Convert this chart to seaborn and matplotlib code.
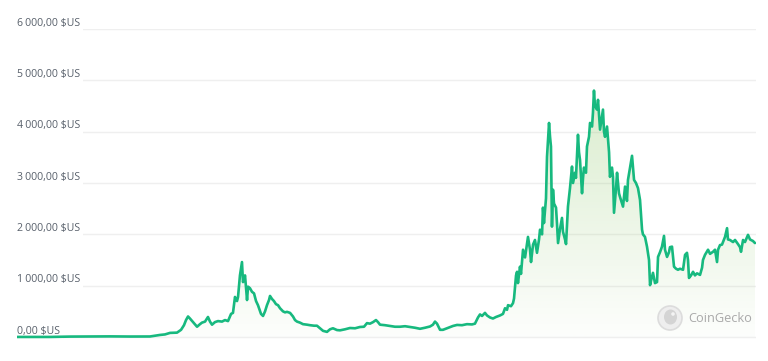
import numpy as np
import pandas as pd
import matplotlib
matplotlib.use("Agg")
import matplotlib.pyplot as plt
import matplotlib.transforms as mtransforms
from matplotlib.colors import LinearSegmentedColormap
from matplotlib.patches import Circle, Ellipse
import seaborn as sns

# ---- data (decimal year, price in $US) ----
years = [
    2015.580, 2015.721, 2015.939, 2016.157, 2016.374, 2016.483, 2016.592, 2016.701, 2016.810, 2016.918,
    2017.027, 2017.136, 2017.190, 2017.245, 2017.321, 2017.365, 2017.397, 2017.419, 2017.441, 2017.462,
    2017.495, 2017.517, 2017.539, 2017.571, 2017.593, 2017.626, 2017.658, 2017.680, 2017.702, 2017.734,
    2017.767, 2017.811, 2017.843, 2017.876, 2017.909, 2017.930, 2017.952, 2017.974, 2017.985, 2018.006,
    2018.028, 2018.039, 2018.061, 2018.072, 2018.083, 2018.094, 2018.115, 2018.137, 2018.159, 2018.181,
    2018.202, 2018.235, 2018.257, 2018.279, 2018.300, 2018.322, 2018.333, 2018.355, 2018.376, 2018.398,
    2018.420, 2018.442, 2018.474, 2018.496, 2018.518, 2018.551, 2018.583, 2018.605, 2018.627, 2018.659,
    2018.692, 2018.736, 2018.768, 2018.812, 2018.844, 2018.877, 2018.910, 2018.953, 2018.986, 2019.018,
    2019.062, 2019.095, 2019.149, 2019.203, 2019.258, 2019.312, 2019.356, 2019.388, 2019.421, 2019.454,
    2019.486, 2019.508, 2019.530, 2019.584, 2019.639, 2019.693, 2019.747, 2019.802, 2019.856, 2019.911,
    2019.965, 2020.019, 2020.074, 2020.106, 2020.128, 2020.150, 2020.183, 2020.215, 2020.259, 2020.291,
    2020.324, 2020.368, 2020.422, 2020.476, 2020.531, 2020.563, 2020.596, 2020.618, 2020.640, 2020.672,
    2020.694, 2020.727, 2020.759, 2020.792, 2020.836, 2020.868, 2020.890, 2020.912, 2020.923, 2020.955,
    2020.977, 2020.988, 2021.010, 2021.021, 2021.031, 2021.053, 2021.064, 2021.086, 2021.108, 2021.140,
    2021.162, 2021.173, 2021.195, 2021.216, 2021.238, 2021.260, 2021.271, 2021.293, 2021.303, 2021.314,
    2021.336, 2021.347, 2021.369, 2021.380, 2021.390, 2021.401, 2021.412, 2021.423, 2021.445, 2021.456,
    2021.467, 2021.488, 2021.510, 2021.521, 2021.543, 2021.554, 2021.575, 2021.597, 2021.619, 2021.630,
    2021.652, 2021.662, 2021.684, 2021.695, 2021.706, 2021.728, 2021.739, 2021.749, 2021.771, 2021.782,
    2021.804, 2021.815, 2021.837, 2021.847, 2021.858, 2021.869, 2021.891, 2021.902, 2021.924, 2021.945,
    2021.956, 2021.967, 2021.978, 2022.000, 2022.022, 2022.032, 2022.054, 2022.065, 2022.076, 2022.098,
    2022.109, 2022.130, 2022.141, 2022.163, 2022.174, 2022.196, 2022.217, 2022.228, 2022.250, 2022.272,
    2022.294, 2022.315, 2022.337, 2022.359, 2022.381, 2022.391, 2022.413, 2022.435, 2022.457, 2022.468,
    2022.479, 2022.500, 2022.522, 2022.544, 2022.555, 2022.576, 2022.598, 2022.620, 2022.631, 2022.653,
    2022.674, 2022.685, 2022.707, 2022.729, 2022.751, 2022.772, 2022.794, 2022.827, 2022.849, 2022.870,
    2022.881, 2022.892, 2022.914, 2022.936, 2022.957, 2022.979, 2023.012, 2023.034, 2023.044, 2023.066,
    2023.099, 2023.121, 2023.153, 2023.175, 2023.197, 2023.208, 2023.229, 2023.251, 2023.284, 2023.306,
    2023.316, 2023.338, 2023.371, 2023.393, 2023.425, 2023.447, 2023.458, 2023.480, 2023.501, 2023.534,
    2023.556, 2023.567, 2023.588, 2023.610,
]
prices = [
    1, 1, 1, 8, 10, 12, 12, 10, 9, 10,
    10, 40, 50, 80, 85, 140, 230, 330, 400, 360,
    290, 240, 200, 250, 280, 300, 390, 300, 240, 290,
    310, 300, 330, 310, 450, 470, 780, 700, 780, 1200,
    1460, 1070, 1200, 950, 720, 980, 950, 880, 850, 700,
    620, 450, 410, 500, 620, 720, 800, 740, 700, 640,
    620, 560, 500, 480, 490, 470, 400, 330, 300, 280,
    250, 240, 230, 220, 220, 170, 120, 100, 150, 170,
    135, 130, 150, 175, 170, 195, 200, 270, 260, 290,
    330, 290, 240, 230, 215, 200, 200, 210, 195, 180,
    160, 180, 205, 240, 300, 260, 140, 140, 170, 190,
    215, 235, 230, 250, 245, 260, 380, 440, 410, 470,
    420, 380, 360, 390, 420, 450, 560, 530, 620, 600,
    660, 750, 1200, 1270, 1050, 1370, 1230, 1700, 1550, 1950,
    1700, 1460, 1800, 1890, 1640, 1900, 2090, 2000, 2520, 2220,
    2700, 3510, 4170, 3900, 3710, 2150, 2870, 2600, 2520, 2200,
    1830, 2100, 2320, 2050, 1900, 1810, 2540, 2900, 3320, 3000,
    3200, 3100, 3940, 3600, 3450, 2800, 3100, 3300, 3200, 3710,
    3900, 4170, 4100, 4370, 4800, 4500, 4430, 4620, 4040, 4300,
    4430, 4000, 3900, 4100, 3600, 3120, 3300, 3120, 2420, 2900,
    3200, 2800, 2730, 2600, 2540, 2930, 2650, 3060, 3300, 3530,
    3060, 3000, 2900, 2670, 2090, 2000, 1950, 1760, 1500, 1010,
    1100, 1250, 1050, 1070, 1560, 1650, 1760, 1970, 1700, 1560,
    1650, 1750, 1760, 1370, 1330, 1310, 1330, 1310, 1600, 1640,
    1500, 1150, 1200, 1270, 1200, 1240, 1210, 1350, 1500, 1600,
    1700, 1620, 1660, 1700, 1460, 1700, 1790, 1800, 1950, 2120,
    1900, 1890, 1850, 1890, 1810, 1750, 1660, 1890, 1850, 1990,
    1900, 1890, 1870, 1830,
]
y_ticks = [0, 1000, 2000, 3000, 4000, 5000, 6000]
y_tick_labels = ["0,00 $US", "1\u202f000,00 $US", "2\u202f000,00 $US", "3\u202f000,00 $US",
                 "4\u202f000,00 $US", "5\u202f000,00 $US", "6\u202f000,00 $US"]
watermark = "CoinGecko"

df = pd.DataFrame({"year": years, "price": prices})

LINE = "#17b97f"
FILL = (0.55, 0.78, 0.40)
GRID = "#efefef"
LABEL = "#58606b"

sns.set_theme(style="white")
plt.rcParams["font.family"] = ["Open Sans", "DejaVu Sans"]

W, H = 768, 361
fig = plt.figure(figsize=(W / 100, H / 100), dpi=100)
fig.patch.set_facecolor("white")

# axes: value 0 at y=337 px, 6000 at y=29 px; x from 17 to 756 px
ymin = -58
ymax = 6000
top_px, zero_px = 29, 337
px_per_unit = (zero_px - top_px) / (ymax - 0)
bottom_px = zero_px + (0 - ymin) * px_per_unit
ax = fig.add_axes([17 / W, (H - bottom_px) / H, (756 - 17) / W, (bottom_px - top_px) / H])
ax.set_facecolor("white")
for s in ax.spines.values():
    s.set_visible(False)

ax.set_xlim(min(years), 2023.621)
ax.set_ylim(ymin, ymax)
ax.set_yticks(y_ticks)
ax.yaxis.grid(True, color=GRID, linewidth=1.0, zorder=0)
ax.xaxis.grid(False)
ax.tick_params(axis="both", length=0, labelleft=False, labelbottom=False)
ax.set_xticks([])

# gradient fill under the line
x = np.asarray(years)
y = np.asarray(prices, dtype=float)
poly = ax.fill_between(x, 0, y, color="none", linewidth=0)
cmap = LinearSegmentedColormap.from_list(
    "g", [(FILL[0], FILL[1], FILL[2], 0.02), (FILL[0], FILL[1], FILL[2], 0.32)])
grad = np.linspace(0, 1, 256).reshape(-1, 1)
im = ax.imshow(grad, cmap=cmap, aspect="auto", origin="lower",
               extent=[x.min(), x.max(), 0, max(prices)], zorder=1, interpolation="bilinear")
path = poly.get_paths()[0]
im.set_clip_path(path, transform=ax.transData)

sns.lineplot(data=df, x="year", y="price", ax=ax, color=LINE, linewidth=1.9,
             zorder=3, legend=False, sort=False)
ax.set_xlim(min(years), 2023.621)
ax.set_ylim(ymin, ymax)
ax.set_xlabel("")
ax.set_ylabel("")

# y labels sitting above each gridline, white background hiding the grid
trans = mtransforms.blended_transform_factory(ax.transAxes, ax.transData)
for v, lab in zip(y_ticks, y_tick_labels):
    ax.annotate(lab, xy=(0, v), xycoords=trans, xytext=(0, 4.2), textcoords="offset points",
                ha="left", va="center", fontsize=7.6, color=LABEL, zorder=2,
                bbox=dict(boxstyle="square,pad=0.25", fc="white", ec="none"))

# watermark (drawn in inch coordinates so circles stay round)
pt = fig.dpi_scale_trans
cx, cy = 670 / 100, (H - 318) / 100
fig.patches.append(Circle((cx, cy), 0.12, transform=pt, facecolor="#eeeeee",
                          edgecolor="#dcdcdc", linewidth=1.2, zorder=5))
fig.patches.append(Ellipse((cx + 0.005, cy + 0.01), 0.13, 0.15, transform=pt,
                           facecolor="#d4d4d4", edgecolor="none", zorder=6))
fig.patches.append(Circle((cx + 0.03, cy + 0.04), 0.018, transform=pt,
                          facecolor="#f4f4f4", edgecolor="none", zorder=7))
fig.text(688 / W, 1 - 318 / H, watermark, ha="left", va="center", fontsize=9.2,
         color="#a9a9a9", fontweight="medium")

fig.savefig("out.png", dpi=100, facecolor="white")
